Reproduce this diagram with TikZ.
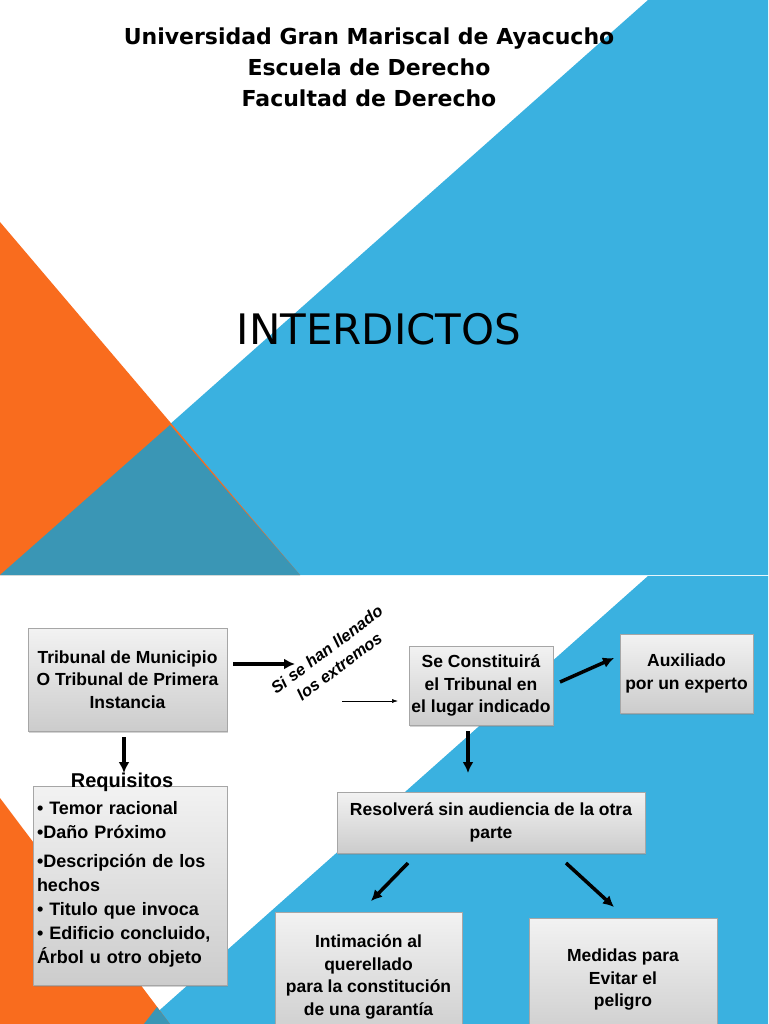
\documentclass[tikz,border=0pt]{standalone}
\usepackage{fontspec}
\setmainfont{Liberation Sans}
\newfontfamily\dvs{DejaVu Sans}
\usetikzlibrary{shadows,arrows.meta}
\definecolor{skyb}{HTML}{3AB1E0}
\definecolor{orng}{HTML}{F96C1E}
\definecolor{teal2}{HTML}{3A96B5}
\tikzset{
 bx/.style={draw=gray!70,line width=0.8pt,top color=gray!10,bottom color=gray!40,drop shadow={opacity=0.35,shadow xshift=1pt,shadow yshift=-1.5pt},align=center,font=\bfseries\fontsize{17.5}{22.5}\selectfont,inner sep=2pt},
 thick arrow/.style={-{Latex[length=11pt,width=11pt]},line width=3.5pt},
}
\begin{document}
\begin{tikzpicture}[x=1pt,y=-1pt]
\useasboundingbox (0,0) rectangle (768,1024);
\fill[white] (0,0) rectangle (768,1024);
% top slide
\fill[skyb] (648,0) -- (768,0) -- (768,575) -- (0,575) -- cycle;
\fill[orng] (0,222) -- (300,575) -- (0,575) -- cycle;
\fill[teal2] (170,425) -- (300,575) -- (0,575) -- cycle;
\node[font=\dvs\bfseries\fontsize{22}{31}\selectfont,align=center] (title) at (369,67) {Universidad Gran Mariscal de Ayacucho\\Escuela de Derecho\\Facultad de Derecho};
\node[font=\dvs\fontsize{42}{46}\selectfont] (main) at (379,329) {INTERDICTOS};
% bottom slide
\fill[white] (0,576) rectangle (768,1024);
\fill[skyb] (648,576) -- (768,576) -- (768,1024) -- (144,1024) -- cycle;
\fill[orng] (0,798) -- (170,1024) -- (0,1024) -- cycle;
\fill[teal2] (144,1024) -- (170,1024) -- (157,1007) -- cycle;
% boxes
\node[bx,minimum width=199pt,minimum height=103pt] (A) at (127.5,679.5) {Tribunal de Municipio\\O Tribunal de Primera\\Instancia};
\node[bx,minimum width=194pt,minimum height=199pt,align=left,text width=186pt,font=\bfseries\fontsize{18}{24}\selectfont] (R) at (130,885.5) {\\[-14pt]\textbullet\ Temor racional\\\textbullet Daño Próximo\\[5pt]\textbullet Descripción de los\\hechos\\\textbullet\ Titulo que invoca\\\textbullet\ Edificio concluido,\\Árbol u otro objeto};
\node[font=\bfseries\fontsize{20}{22}\selectfont] (req) at (122,782) {Requisitos};
\node[bx,minimum width=144pt,minimum height=79pt] (C) at (481,685.5) {Se Constituirá\\el Tribunal en\\el lugar indicado};
\node[bx,minimum width=133pt,minimum height=79pt] (D) at (686.5,673.5) {Auxiliado\\por un experto};
\node[bx,minimum width=308pt,minimum height=61pt] (E) at (491,822.5) {Resolverá sin audiencia de la otra\\parte};
\node[bx,minimum width=187pt,minimum height=130pt] (F) at (368.5,977) {Intimación al\\querellado\\para la constitución\\de una garantía};
\node[bx,minimum width=188pt,minimum height=124pt] (G) at (623,980) {Medidas para\\Evitar el\\peligro};
\node[rotate=37,font=\bfseries\itshape\fontsize{16.5}{21}\selectfont,align=center] (lbl) at (333,658) {Si se han llenado\\los extremos};
% arrows
\coordinate (a1) at (233,664); \coordinate (a2) at (295,664);
\draw[thick arrow] (a1) -- (a2);
\coordinate (t1) at (342,701); \coordinate (t2) at (398,701);
\draw[-{Latex[length=6pt,width=4pt]},line width=0.6pt] (t1) -- (t2);
\coordinate (d1) at (124,737); \coordinate (d2) at (124,773);
\draw[thick arrow] (d1) -- (d2);
\coordinate (c1) at (468,731); \coordinate (c2) at (468,773);
\draw[thick arrow] (c1) -- (c2);
\coordinate (e1) at (560,682); \coordinate (e2) at (614,658);
\draw[thick arrow] (e1) -- (e2);
\coordinate (f1) at (408,863); \coordinate (f2) at (371,901);
\draw[thick arrow] (f1) -- (f2);
\coordinate (g1) at (566,863); \coordinate (g2) at (614,907);
\draw[thick arrow] (g1) -- (g2);
\end{tikzpicture}
\end{document}
